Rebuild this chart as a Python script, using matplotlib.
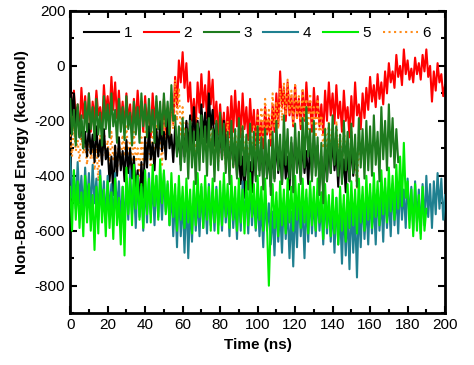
import numpy as np
import matplotlib
matplotlib.use("Agg")
import matplotlib.pyplot as plt

plt.rcParams["font.family"] = ["Liberation Sans", "DejaVu Sans"]
plt.rcParams["axes.unicode_minus"] = False

# energies (kcal/mol) read every 1 ns
e1 = [-50, -180, -100, -230, -150, -260, -200, -300, -240, -330,
      -210, -320, -250, -350, -220, -330, -270, -360, -230, -340,
      -300, -420, -330, -470, -290, -400, -260, -380, -310, -420,
      -270, -390, -300, -410, -330, -450, -380, -520, -350, -480,
      -260, -370, -220, -340, -280, -380, -230, -330, -200, -310,
      -240, -340, -190, -300, -250, -350, -220, -320, -260, -360,
      -230, -330, -200, -310, -180, -290, -150, -270, -200, -300,
      -140, -260, -170, -280, -100, -230, -160, -290, -210, -320,
      -230, -340, -200, -320, -260, -380, -240, -360, -280, -400,
      -300, -430, -330, -480, -290, -420, -350, -460, -300, -400,
      -260, -380, -300, -420, -280, -400, -320, -440, -290, -410,
      -270, -390, -310, -430, -290, -410, -330, -450, -280, -400,
      -260, -380, -300, -420, -270, -390, -310, -430, -280, -400,
      -250, -370, -290, -410, -330, -450, -300, -420, -280, -390,
      -260, -380, -310, -440, -290, -410, -340, -460, -300, -420,
      -280, -400, -330]
e2 = [-120, -230, -90, -200, -140, -250, -80, -190, -110, -220,
      -100, -240, -130, -200, -90, -180, -150, -230, -70, -170,
      -110, -200, -40, -160, -60, -190, -90, -210, -130, -230,
      -100, -200, -140, -250, -120, -210, -90, -190, -130, -240,
      -110, -220, -150, -260, -100, -200, -130, -230, -160, -280,
      -120, -250, -160, -270, -100, -210, -40, -150, 20, -60,
      50, -80, 10, -130, -60, -200, -120, -220, -60, -170,
      -30, -150, -70, -190, -20, -140, -50, -210, -130, -250,
      -140, -250, -170, -280, -150, -260, -110, -240, -90, -220,
      -130, -260, -100, -230, -150, -270, -120, -240, -160, -290,
      -160, -270, -200, -300, -150, -250, -190, -290, -140, -240,
      -100, -220, -20, -150, -80, -200, -60, -180, -110, -220,
      -70, -190, -120, -230, -90, -200, -60, -170, -130, -240,
      -80, -190, -110, -220, -140, -250, -90, -200, -60, -180,
      -100, -210, -70, -190, -130, -240, -90, -200, -150, -260,
      -110, -220, -60, -180, -140, -230, -100, -190, -80, -160,
      -40, -130, -70, -150, -30, -120, -60, -140, -20, -100,
      10, -60, -20, -80, 40, -40, 0, -70, 60, -30,
      20, -50, -10, -60, 30, -30, 10, -50, 40, -20,
      60, -40, 0, -130, -20, -90, 10, -60, -30, -110,
      -70]
e3 = [-120, -250, -160, -290, -140, -260, -180, -300, -130, -240,
      -100, -230, -150, -270, -120, -250, -170, -290, -110, -230,
      -140, -260, -100, -220, -160, -280, -120, -240, -150, -270,
      -110, -230, -170, -290, -130, -250, -150, -280, -100, -220,
      -140, -260, -120, -240, -160, -280, -110, -230, -130, -250,
      -100, -220, -130, -250, -70, -200, -180, -330, -220, -380,
      -190, -350, -230, -410, -200, -370, -240, -430, -210, -380,
      -180, -350, -220, -400, -190, -360, -230, -420, -200, -380,
      -170, -340, -210, -390, -240, -430, -200, -370, -230, -410,
      -190, -360, -220, -400, -250, -450, -210, -380, -240, -420,
      -220, -400, -260, -450, -230, -410, -270, -470, -240, -420,
      -200, -380, -250, -430, -180, -360, -230, -410, -260, -460,
      -210, -390, -240, -430, -190, -370, -150, -330, -230, -420,
      -200, -400, -260, -470, -280, -500, -230, -420, -210, -390,
      -180, -360, -220, -400, -250, -430, -200, -380, -240, -420,
      -210, -390, -250, -440, -190, -370, -230, -410, -200, -380,
      -220, -400, -180, -360, -240, -420, -150, -340, -200, -380,
      -140, -330, -190, -370, -230, -350]
e4 = [-330, -480, -380, -520, -350, -500, -400, -540, -370, -510,
      -390, -530, -360, -500, -410, -560, -380, -520, -420, -570,
      -400, -540, -430, -580, -390, -530, -420, -570, -440, -590,
      -410, -560, -380, -540, -430, -590, -400, -550, -440, -600,
      -420, -570, -390, -540, -430, -580, -400, -550, -420, -560,
      -390, -530, -430, -580, -450, -620, -470, -660, -440, -620,
      -480, -680, -460, -700, -500, -640, -450, -600, -480, -620,
      -440, -590, -470, -610, -430, -580, -460, -600, -440, -580,
      -460, -600, -430, -570, -470, -620, -440, -590, -480, -630,
      -450, -600, -420, -560, -460, -610, -430, -580, -470, -600,
      -480, -620, -510, -660, -470, -600, -500, -650, -530, -690,
      -490, -640, -520, -680, -480, -630, -510, -700, -530, -730,
      -500, -660, -470, -620, -510, -700, -480, -640, -450, -610,
      -480, -620, -460, -600, -500, -650, -470, -610, -490, -640,
      -510, -680, -480, -650, -530, -720, -500, -690, -520, -740,
      -490, -680, -530, -770, -500, -660, -470, -630, -500, -650,
      -460, -610, -490, -650, -450, -600, -480, -640, -440, -590,
      -470, -620, -430, -580, -460, -610, -420, -560, -450, -590,
      -410, -560, -440, -600, -420, -570, -450, -610, -430, -580,
      -400, -550, -430, -590, -420, -540, -390, -520, -410, -560,
      -470]
e5 = [-440, -600, -380, -560, -420, -590, -460, -620, -400, -570,
      -430, -600, -470, -670, -440, -610, -400, -570, -450, -620,
      -420, -590, -460, -630, -410, -580, -480, -650, -440, -690,
      -370, -540, -410, -580, -360, -520, -400, -560, -430, -590,
      -380, -540, -410, -570, -360, -510, -400, -560, -340, -500,
      -380, -540, -420, -580, -390, -550, -430, -600, -400, -560,
      -440, -590, -410, -570, -450, -610, -420, -580, -390, -550,
      -430, -590, -400, -560, -440, -600, -410, -570, -450, -610,
      -420, -580, -390, -550, -430, -590, -400, -560, -440, -600,
      -410, -570, -450, -610, -420, -580, -390, -550, -430, -590,
      -400, -560, -440, -600, -410, -580, -800, -560, -430, -590,
      -460, -620, -420, -580, -450, -610, -410, -570, -440, -600,
      -400, -560, -430, -590, -410, -570, -450, -610, -420, -580,
      -440, -600, -410, -570, -460, -630, -430, -590, -470, -620,
      -450, -610, -480, -650, -440, -600, -470, -640, -430, -590,
      -420, -580, -450, -610, -410, -570, -440, -600, -400, -560,
      -430, -590, -390, -550, -420, -580, -380, -540, -410, -570,
      -370, -530, -400, -560, -360, -520, -330, -510, -280, -480,
      -420, -590, -450, -620, -430, -600, -470, -630, -440, -600,
      -520]
e6 = [-250, -330, -220, -310, -270, -350, -240, -320, -290, -360,
      -260, -340, -300, -380, -280, -420, -250, -350, -230, -330,
      -270, -370, -240, -340, -290, -390, -260, -360, -250, -330,
      -220, -320, -280, -380, -240, -350, -300, -400, -260, -360,
      -230, -330, -270, -370, -240, -340, -210, -310, -260, -360,
      -200, -300, -150, -280, -100, -230, -50, -200, -80, -250,
      -150, -280, -200, -320, -180, -300, -220, -340, -190, -310,
      -160, -280, -200, -330, -170, -290, -210, -320, -240, -350,
      -220, -340, -250, -360, -200, -320, -260, -370, -230, -340,
      -250, -360, -210, -330, -270, -380, -240, -340, -220, -310,
      -180, -280, -150, -260, -120, -240, -160, -270, -100, -220,
      -130, -230, -80, -200, -60, -180, -50, -170, -90, -210,
      -70, -190, -110, -220, -80, -200, -120, -230, -100, -210,
      -150, -260, -120, -240, -180, -300, -220, -330, -200, -310,
      -230, -350, -200, -320, -250, -380, -220, -340, -270, -400,
      -240, -380, -300, -450, -260, -350]

labels = ["1", "2", "3", "4", "5", "6"]
colors = ["#000000", "#ff0000", "#1e7b1e", "#1f8090", "#00ee00", "#ff8c1a"]

fig = plt.figure(figsize=(4.74, 3.65), dpi=100)
ax = fig.add_axes([0.148, 0.142, 0.791, 0.828])

series = [e1, e2, e3, e4, e5, e6]
zord = [4, 2, 7, 5, 6, 3]
for i, e in enumerate(series):
    t = np.arange(len(e))
    ls = ":" if i == 5 else "-"
    ax.plot(t, e, color=colors[i], lw=1.5, ls=ls, label=labels[i], zorder=zord[i])

ax.set_xlim(0, 200)
ax.set_ylim(-900, 200)
ax.set_xticks(np.arange(0, 201, 20))
ax.set_xticks(np.arange(0, 201, 10), minor=True)
ax.set_yticks(np.arange(-800, 201, 200))
ax.set_yticks(np.arange(-900, 201, 100), minor=True)
ax.tick_params(which="both", direction="in", top=True, right=True, labelsize=11, width=1.5)
ax.tick_params(which="major", length=5)
ax.tick_params(which="minor", length=3)
for s in ax.spines.values():
    s.set_linewidth(2)

ax.set_xlabel("Time (ns)", fontsize=11, fontweight="bold")
ax.set_ylabel("Non-Bonded Energy (kcal/mol)", fontsize=11, fontweight="bold")

leg = ax.legend(loc="upper center", ncol=6, frameon=False, fontsize=11,
                handlelength=2.3, handletextpad=0.3, columnspacing=0.75,
                borderaxespad=0.6)
for h in leg.get_lines():
    h.set_linewidth(1.5)

fig.savefig("out.png", dpi=100)
